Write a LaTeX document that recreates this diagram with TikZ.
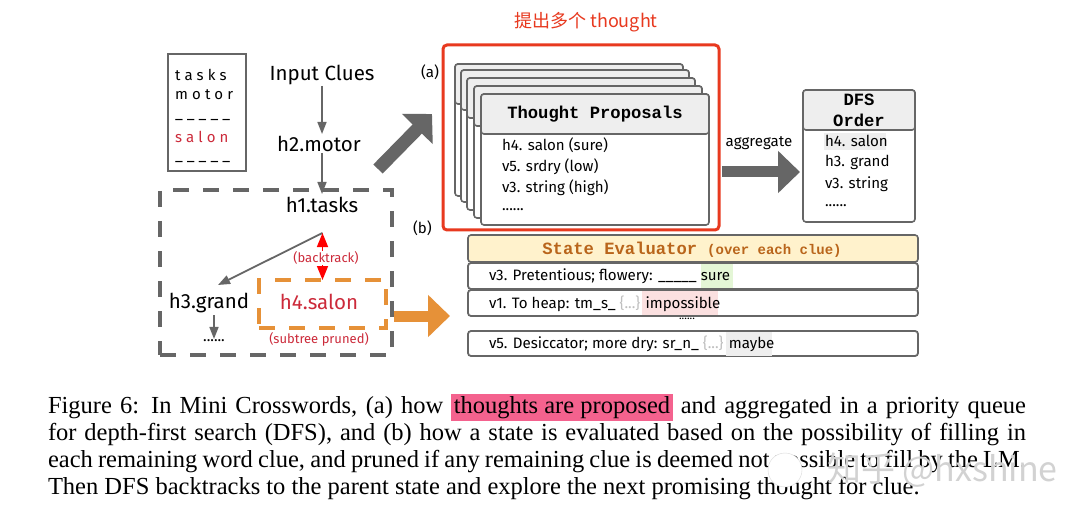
\documentclass[tikz,border=0pt]{standalone}
\usepackage{fontspec}
\setmainfont{Fira Sans}
\newfontfamily\capfont{Liberation Serif}
\newfontfamily\codefont{Liberation Mono}
\newfontfamily\cjkfont{Noto Sans CJK SC}
\newfontfamily\cluefont[LetterSpace=28]{Fira Sans}
\usetikzlibrary{ arrows.meta, calc, positioning }
\definecolor{linegray}{HTML}{666666}
\definecolor{headgray}{HTML}{EEEEEE}
\definecolor{boxred}{HTML}{E8391F}
\definecolor{prunered}{HTML}{CC2A3A}
\definecolor{treeorange}{HTML}{E69138}
\definecolor{evalfill}{HTML}{FFF2CC}
\definecolor{evaltext}{HTML}{B9651B}
\definecolor{suregreen}{HTML}{E4F6D6}
\definecolor{badpink}{HTML}{FBE0E0}
\definecolor{hlpink}{HTML}{F4628E}
\tikzset{
  every node/.style={inner sep=1pt, outer sep=0pt},
  node distance=4pt,
  clue/.style={font=\fontsize{20.5}{20.5}\selectfont},
  item/.style={font=\fontsize{15.1}{15.1}\selectfont, anchor=west},
  cluetext/.style={font=\cluefont\fontsize{15}{15}\selectfont, anchor=west},
  redsmall/.style={font=\fontsize{13}{13}\selectfont, text=prunered},
  card/.style={draw=linegray, line width=1.6pt, fill=white, rounded corners=3pt, anchor=north west},
  head/.style={card, fill=headgray, font=\codefont\bfseries\fontsize{17.2}{21}\selectfont, align=center},
  row/.style={card, line width=1.8pt},
  thinarrow/.style={-{Triangle[length=12pt,width=9pt]}, draw=linegray, line width=1.6pt},
  bigarrow/.style={-{Triangle[length=22pt,width=41pt]}, line width=11pt},
  shade/.style={anchor=north west, inner sep=0pt},
  capline/.style={font=\capfont\fontsize{24.5}{24.5}\selectfont, anchor=base west, inner sep=0pt},
}
\newcommand{\capbox}[1]{\hbox to 978pt{#1}}
\begin{document}
\begin{tikzpicture}[x=1pt,y=-1pt]
  \useasboundingbox[fill=white] (0,0) rectangle (1080,516);

  % clue list
  \node[draw=linegray, line width=2pt, anchor=north west, minimum width=78pt, minimum height=117pt] (cluebox) at (168,54) {};
  \node[cluetext] (clue1) at (174,75) {tasks};
  \node[cluetext] (clue2) at (174,95) {motor};
  \node[cluetext] (clue3) at (174,120) {\_\_\_\_\_};
  \node[cluetext, text=prunered] (clue4) at (174,137) {salon};
  \node[cluetext] (clue5) at (174,162) {\_\_\_\_\_};

  % search tree
  \node[clue] (input) at (322,75) {Input Clues};
  \node[clue] (h2) at (319,144) {h2.motor};
  \node[clue] (h1) at (322,205) {h1.tasks};
  \node[clue] (h3) at (209,303) {h3.grand};
  \node[clue, text=prunered] (h4) at (319,302) {h4.salon};
  \node[item, anchor=center] (dots) at (214,341) {......};
  \coordinate (fork) at (322.5,233);
  \coordinate (h2top) at (322,134);
  \coordinate (h2low) at (322,153);
  \coordinate (h1top) at (322,194);
  \coordinate (h3top) at (218,285);
  \coordinate (h3low) at (214,315);
  \node[draw=linegray, line width=4pt, dash pattern=on 16pt off 14pt, minimum width=232pt, minimum height=165pt, anchor=north west] (treebox) at (160,190) {};
  \node[draw=treeorange, line width=4pt, dash pattern=on 16pt off 14pt, minimum width=127pt, minimum height=48pt, anchor=north west] (h4box) at (259,280) {};
  \node[redsmall] (pruned) at (319,339) {(subtree pruned)};

  \draw[thinarrow] (input.south -| h2top) -- (h2top);
  \draw[thinarrow] (h2low) -- (h1top);
  \draw[thinarrow, line width=1.8pt] (fork) -- (h3top);
  \draw[thinarrow] (h3low) -- (dots);
  \draw[{Triangle[length=14pt,width=11pt]}-{Triangle[length=14pt,width=11pt]}, draw=red, fill=red, line width=1.5pt] (fork) -- (h4box.north);
  \node[redsmall, fill=white] (backtrack) at (326,258) {(backtrack)};

  % thought proposals
  \node[font=\cjkfont\fontsize{18}{18}\selectfont, text=boxred] (propose) at (586,22) {提出多个 thought};
  \node[item] (a) at (420,72) {(a)};
  \node[item] (b) at (412,228) {(b)};
  \node[draw=boxred, line width=3pt, rounded corners=4pt, anchor=north west, minimum width=276pt, minimum height=185pt] (redbox) at (443,45) {};
  \foreach \cx/\cy/\cname in {455/64/c0,461/70/c1,467/78/c2,474/86/c3}{
    \node[card, minimum width=228pt, minimum height=132pt] (\cname) at (\cx,\cy) {};
    \node[head, minimum width=228pt, minimum height=40pt] (\cname head) at (\cx,\cy) {};
  }
  \node[card, minimum width=228pt, minimum height=131pt] (c4) at (481,94) {};
  \node[head, minimum width=228pt, minimum height=40pt] (c4head) at (481,94) {\raisebox{-2pt}{Thought Proposals}};
  \node[item] (p1) at (501,145) {h4. salon (sure)};
  \node[item] (p2) at (501,167) {v5. srdry (low)};
  \node[item] (p3) at (501,188) {v3. string (high)};
  \node[item] (p4) at (501,210) {......};

  % dfs order
  \node[card, minimum width=112pt, minimum height=132pt] (dfs) at (803,90) {};
  \node[head, minimum width=112pt, minimum height=40pt] (dfshead) at (803,90) {DFS\\Order};
  \node[shade, fill=headgray, minimum width=62pt, minimum height=17pt] (m1) at (824,133) {};
  \node[item] (d1) at (824,141) {h4. salon};
  \node[item] (d2) at (824,162) {h3. grand};
  \node[item] (d3) at (824,184) {v3. string};
  \node[item] (d4) at (824,206) {......};
  \node[item, anchor=center] (aggregate) at (759,143) {aggregate};

  % state evaluator
  \node[card, fill=evalfill, minimum width=450pt, minimum height=27pt] (evalhead) at (468,235) {};
  \node[font=\codefont\bfseries\fontsize{17.2}{17.2}\selectfont, text=evaltext] (evaltitle) at (692,250) {State Evaluator\hspace{10pt}{\fontsize{14}{14}\selectfont (over each clue)}};
  \node[row, minimum width=450pt, minimum height=26pt] (r1) at (468,263) {};
  \node[row, minimum width=450pt, minimum height=26pt] (r2) at (468,290) {};
  \node[row, minimum width=450pt, minimum height=25pt] (r3) at (468,331) {};
  \node[shade, fill=suregreen, minimum width=32pt, minimum height=24pt] (m2) at (701,264) {};
  \node[shade, fill=badpink, minimum width=76pt, minimum height=24pt] (m3) at (642,291) {};
  \node[shade, fill=headgray, minimum width=46pt, minimum height=24pt] (m4) at (726,332) {};
  \node[item] (t1) at (488,276.5) {v3. Pretentious; flowery: \_\_\_\_\_ sure};
  \node[item] (t2) at (488,303.5) {v1. To heap: tm\_s\_ {\color{gray!50}\{...\}} impossible};
  \node[item, anchor=center] (t0) at (687,319) {\fontsize{11}{11}\selectfont ......};
  \node[item] (t3) at (488,344) {v5. Desiccator; more dry: sr\_n\_ {\color{gray!50}\{...\}} maybe};

  % big arrows
  \coordinate (up0) at (378,169);
  \coordinate (up1) at (432,114);
  \coordinate (ag0) at (722,172);
  \coordinate (ag1) at (800,172);
  \coordinate (or0) at (394,316);
  \coordinate (or1) at (450,316);
  \draw[bigarrow, draw=linegray, line width=13pt, -{Triangle[length=21pt,width=42pt]}, fill=linegray] (up0) -- (up1);
  \draw[bigarrow, draw=linegray, fill=linegray] (ag0) -- (ag1);
  \draw[bigarrow, draw=treeorange, fill=treeorange] (or0) -- (or1);

  % caption
  \node[capline] (cap1) at (48,413) {\capbox{Figure 6: In Mini Crosswords, (a) how {\fboxsep=2.5pt\colorbox{hlpink}{thoughts are proposed}} and aggregated in a priority queue}};
  \node[capline] (cap2) at (48,440) {\capbox{for depth-first search (DFS), and (b) how a state is evaluated based on the possibility of filling in}};
  \node[capline] (cap3) at (48,467) {\capbox{each remaining word clue, and pruned if any remaining clue is deemed not possible to fill by the LM.}};
  \node[capline] (cap4) at (48,494) {Then DFS backtracks to the parent state and explore the next promising thought for clue.};

  % watermark
  \node[circle, draw=gray!30, fill=white, minimum size=34pt] (wmicon) at (785,470) {};
  \node[font=\cjkfont\fontsize{34}{34}\selectfont, text=gray!35, anchor=west] (wmtext) at (826,470) {知乎 @hxshine};
\end{tikzpicture}
\end{document}
